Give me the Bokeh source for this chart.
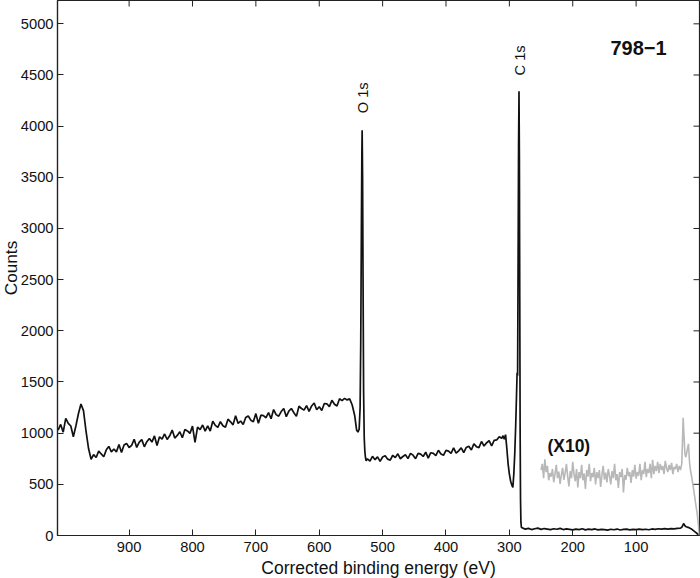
import numpy as np
from bokeh.plotting import figure
from bokeh.models import Range1d, FixedTicker
from bokeh.core.properties import value
from bokeh.embed import file_html
from bokeh.resources import INLINE

FONT = "Liberation Sans"

# ---- data ----
# broad high-BE region, 4 eV scan steps 1012 -> 544
be_high = list(range(1012, 543, -4))
counts_high = [
    1030, 1085, 1010, 1145, 1095, 1070, 965, 1070, 1190, 1285,
    1220, 1020, 850, 745,
    790, 762, 825, 797, 770, 837, 870, 817, 845, 817,
    890, 812, 885, 900, 860, 881, 941, 861, 912, 937,
    867, 917, 948, 913, 973, 879, 965, 941, 992, 938,
    974, 1030, 952, 978, 1014, 955, 1036, 1022, 998, 1069,
    910, 1060, 1035, 1080, 1020, 1071, 1021, 1116, 1076, 1057,
    1112, 1072, 1057, 1137, 1111, 1081, 1170, 1095, 1119, 1084,
    1153, 1168, 1127, 1112, 1191, 1096, 1176, 1171, 1151, 1201,
    1141, 1231, 1181, 1166, 1211, 1241, 1161, 1216, 1241, 1200,
    1164, 1263, 1241, 1225, 1269, 1213, 1266, 1295, 1229, 1258,
    1222, 1290, 1287, 1259, 1321, 1283, 1265, 1336, 1318, 1340,
    1325, 1335, 1275, 1170,
]
# O 1s peak
be_o1s = [541, 539, 537, 535.5, 534.5, 533.5, 532.8, 532.3, 531.6, 530.8, 530, 529, 528, 527, 526]
counts_o1s = [1030, 1010, 1040, 1250, 1900, 3000, 3700, 3960, 3500, 2400, 1400, 950, 820, 760, 730]
# region between O 1s and C 1s, 4 eV steps 524 -> 312
be_mid = list(range(524, 311, -4))
counts_mid = [
    750, 727, 774, 741, 768, 725, 767, 779, 746, 737,
    784, 761, 798, 750, 772, 789, 751, 803, 785, 751,
    803, 795, 772, 814, 756, 809, 802, 780, 833, 796,
    784, 832, 825, 803, 856, 804, 827, 857, 809, 861,
    873, 835, 896, 868, 859, 919, 875, 905, 926, 876,
    929, 934, 965, 950,
]
# C 1s peak
be_c1s = [310, 308, 306, 304, 302, 300, 298, 296, 294.5, 293, 291.5, 290, 288.8,
          287.8, 287, 286.2, 285.5, 284.8, 284.2, 283.6, 283, 282.4, 281.8, 281]
counts_c1s = [975, 940, 985, 850, 700, 600, 530, 490, 470, 600, 800, 1080, 1350,
              1590, 1560, 2700, 3800, 4340, 3700, 2300, 1000, 350, 130, 80]
# low-BE tail, 5 eV steps 280 -> 30
be_low = list(range(280, 29, -5))
counts_low = [
    75, 62, 70, 58, 66, 72, 60, 68, 63, 57,
    66, 61, 70, 58, 64, 60, 55, 63, 58, 66,
    55, 62, 57, 64, 55, 60, 58, 52, 61, 56,
    63, 54, 59, 62, 55, 60, 57, 63, 58, 61,
    56, 64, 60, 66, 62, 67, 63, 68, 64, 70,
    72,
]
be_end = [28, 26, 24.8, 23, 21, 18, 15, 12, 9, 6, 3, 0.3]
counts_end = [80, 105, 117, 95, 85, 80, 70, 60, 45, 30, 15, 2]

# (X10) magnified trace, 2 eV steps 250 -> 30
be_x10 = list(range(250, 29, -2))
counts_x10 = [
    640, 700, 560, 745, 620, 680, 540, 610, 575, 650,
    520, 600, 690, 560, 625, 505, 590, 660, 545, 610,
    700, 575, 480, 630, 560, 720, 600, 530, 650, 470,
    620, 560, 690, 540, 605, 455, 640, 575, 700, 530,
    610, 570, 660, 500, 620, 560, 640, 475, 590, 680,
    545, 615, 520, 650, 585, 500, 630, 560, 700, 540,
    600, 465, 620, 570, 650, 420, 590, 545, 660, 580,
    620, 515, 640, 575, 690, 555, 620, 585, 700, 540,
    640, 600, 720, 570, 650, 610, 700, 560, 740, 600,
    680, 630, 720, 610, 700, 640, 680, 600, 730, 660,
    620, 690, 640, 710, 600, 670, 650, 700, 620, 680,
    640,
]
be_x10_end = [28, 26.8, 25.8, 24.5, 23, 21.6, 19.5, 17.4, 15.8, 14.3, 12, 9, 6.5, 3.7, 1.5, 0.3]
counts_x10_end = [700, 930, 1150, 980, 800, 765, 830, 896, 720, 640, 560, 440, 330, 215, 90, 2]

x_ticks = [100, 200, 300, 400, 500, 600, 700, 800, 900]
y_ticks = [0, 500, 1000, 1500, 2000, 2500, 3000, 3500, 4000, 4500, 5000]

assert len(be_high) == len(counts_high)
assert len(be_mid) == len(counts_mid)
assert len(be_low) == len(counts_low)
assert len(be_x10) == len(counts_x10)

be_black = be_high + be_o1s + be_mid + be_c1s + be_low + be_end
counts_black = counts_high + counts_o1s + counts_mid + counts_c1s + counts_low + counts_end
be_gray = be_x10 + be_x10_end
counts_gray = counts_x10 + counts_x10_end

X_LEFT, X_RIGHT = 1013, 0
Y_BOTTOM, Y_TOP = 0, 5228

# ---- figure ----
p = figure(width=708, height=580, output_backend="svg", toolbar_location=None,
           x_range=Range1d(X_LEFT, X_RIGHT), y_range=Range1d(Y_BOTTOM, Y_TOP),
           min_border_left=65, min_border_right=1, min_border_top=0, min_border_bottom=45,
           margin=(0, 0, 0, -8))
p.grid.visible = False
p.outline_line_color = "#222222"
p.outline_line_width = 1.2
p.background_fill_color = "white"
p.border_fill_color = "white"

p.line(be_black, counts_black, line_color="#111111", line_width=1.7)
p.line(be_gray, counts_gray, line_color="#b8b8b8", line_width=1.6)

for ax in (p.xaxis[0], p.yaxis[0]):
    ax.major_tick_in = 6
    ax.major_tick_out = 0
    ax.minor_tick_line_color = None
    ax.axis_line_color = "#222222"
    ax.axis_line_width = 1.2
    ax.major_tick_line_color = "#222222"
    ax.major_label_text_font = FONT
    ax.major_label_text_font_size = "14.7px"
    ax.major_label_text_color = "#111111"
    ax.axis_label_text_font = FONT
    ax.axis_label_text_font_style = "normal"
    ax.axis_label_text_color = "#111111"

p.xaxis[0].axis_label_text_font_size = "17.5px"
p.yaxis[0].axis_label_text_font_size = "17.2px"
p.xaxis[0].ticker = FixedTicker(ticks=x_ticks)
p.yaxis[0].ticker = FixedTicker(ticks=y_ticks)
p.xaxis[0].axis_label = "Corrected binding energy (eV)"
p.yaxis[0].axis_label = "Counts"
p.xaxis[0].major_label_standoff = 6
p.xaxis[0].axis_label_standoff = 3
p.yaxis[0].major_label_standoff = 4
p.yaxis[0].axis_label_standoff = -3

# inward ticks on the top and right frame edges
tick_len_y = 6 / 0.10234
tick_len_x = 6 / 0.6338
p.segment(x0=x_ticks, y0=[Y_TOP] * len(x_ticks), x1=x_ticks, y1=[Y_TOP - tick_len_y] * len(x_ticks),
          line_color="#222222", line_width=1)
p.segment(x0=[X_RIGHT] * len(y_ticks), y0=y_ticks, x1=[X_RIGHT + tick_len_x] * len(y_ticks), y1=y_ticks,
          line_color="#222222", line_width=1)

# peak labels and annotations
p.text(x=[531.6], y=[4125], text=["O 1s"], angle=np.pi / 2,
       text_font=value(FONT), text_font_size="14.7px", text_align="left",
       text_baseline="middle", text_color="#111111")
p.text(x=[283.8], y=[4495], text=["C 1s"], angle=np.pi / 2,
       text_font=value(FONT), text_font_size="14.7px", text_align="left",
       text_baseline="middle", text_color="#111111")
p.text(x=[140.5], y=[4760], text=["798\u22121"],
       text_font=value(FONT), text_font_size="20px", text_font_style="bold",
       text_align="left", text_baseline="alphabetic", text_color="#111111")
p.text(x=[240], y=[870], text=["(X10)"],
       text_font=value(FONT), text_font_size="17.5px", text_font_style="bold",
       text_align="left", text_baseline="alphabetic", text_color="#111111")

open("out.html", "w").write(file_html(p, INLINE))
